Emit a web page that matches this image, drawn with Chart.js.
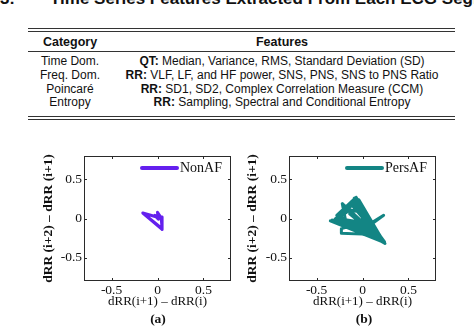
<!DOCTYPE html>
<html>
<head>
<meta charset="utf-8">
<script src="https://cdn.jsdelivr.net/npm/chart.js@4.4.1/dist/chart.umd.min.js"></script>
<style>
  html, body { margin: 0; padding: 0; background: #fff; }
  body { width: 474px; height: 326px; overflow: hidden; position: relative; font-family: "Liberation Sans", Arial, sans-serif; color: #111; }
  .abs { position: absolute; white-space: nowrap; }
  .rule { position: absolute; left: 28px; width: 427px; height: 1px; background: #333; }
  .cell { position: absolute; white-space: nowrap; font-size: 12px; line-height: 14px; transform: translate(-50%, -50%); }
  .hdr { font-weight: bold; font-size: 12.5px; }
  .cap { position: absolute; font-family: "Liberation Serif", "Times New Roman", serif; font-weight: bold; font-size: 13.5px; transform: translate(-50%, -50%); white-space: nowrap; }
  canvas { position: absolute; }
</style>
</head>
<body>
<div class="abs" id="titleA" style="left:-200px; width:215px; text-align:right; top:-11px; font-weight:bold; font-size:17px;">Table 3:</div>
<div class="abs" id="titleB" style="left:50px; top:-11px; font-weight:bold; font-size:17px;">Time Series Features Extracted From Each ECG Segment</div>
<div id="table"></div>
<canvas id="c1" width="237" height="186" style="left:0px; top:140px; width:237px; height:186px;"></canvas>
<canvas id="c2" width="237" height="186" style="left:237px; top:140px; width:237px; height:186px;"></canvas>
<div class="cap" style="left:158px; top:319px;">(a)</div>
<div class="cap" style="left:364px; top:319px;">(b)</div>
<script>
// ---- Table content ----
const TABLE_HEADERS = ["Category", "Features"];
const TABLE_CATEGORIES = ["Time Dom.", "Freq. Dom.", "Poincaré", "Entropy"];
const TABLE_PREFIXES = ["QT:", "RR:", "RR:", "RR:"];
const TABLE_FEATURES = [
  "Median, Variance, RMS, Standard Deviation (SD)",
  "VLF, LF, and HF power, SNS, PNS, SNS to PNS Ratio",
  "SD1, SD2, Complex Correlation Measure (CCM)",
  "Sampling, Spectral and Conditional Entropy"
];

// ---- Chart content ----
const TICK_VALUES = [-0.5, 0, 0.5];
const TICK_LABELS = ["-0.5", "0", "0.5"];
const AXIS_MIN = -0.8, AXIS_MAX = 0.8;
const X_TITLE = "dRR(i+1) \u2013 dRR(i)";
const Y_TITLE = "dRR (i+2) \u2013 dRR (i+1)";

const NONAF_LABEL = "NonAF";
const NONAF_X = [-0.16, 0.05, 0.05, -0.16, 0.05, 0.04, 0.0, 0.01, -0.03, 0.05, 0.05];
const NONAF_Y = [0.07, -0.14, 0.0, 0.07, -0.13, 0.01, 0.08, -0.01, 0.04, 0.02, -0.14];

const PERSAF_LABEL = "PersAF";
const PERSAF_X = [-0.35, 0.24, -0.07, 0.22, -0.22, -0.18, 0.20, -0.12, 0.23, -0.30, -0.04, 0.18, -0.25, 0.245, -0.09, 0.02, -0.23, -0.23, 0.00, 0.21, -0.32, -0.15, -0.20, 0.15, -0.05, 0.09, 0.23, 0.10, -0.27, 0.22, -0.10, 0.19, -0.33, 0.24, -0.06, 0.12, -0.14, 0.24, -0.22, 0.20, -0.28, -0.07, 0.24, -0.17, -0.02, 0.17];
const PERSAF_Y = [-0.03, -0.31, 0.27, -0.28, 0.19, -0.05, -0.25, 0.22, -0.30, -0.01, 0.24, -0.20, 0.02, -0.32, 0.26, -0.05, -0.13, -0.19, -0.20, -0.27, -0.04, 0.10, 0.16, -0.22, 0.20, -0.06, 0.04, -0.07, 0.00, -0.29, 0.15, -0.24, -0.02, -0.30, 0.18, -0.16, 0.06, -0.31, 0.19, -0.26, 0.04, 0.27, -0.31, 0.12, 0.08, -0.21];

// ---- Build table ----
(function buildTable() {
  const t = document.getElementById('table');
  const rules = [28, 31, 51, 116, 119];
  rules.forEach(y => { const d = document.createElement('div'); d.className = 'rule'; d.style.top = y + 'px'; t.appendChild(d); });
  const catX = 70, featX = 282;
  const h1 = document.createElement('div'); h1.className = 'cell hdr'; h1.style.left = catX + 'px'; h1.style.top = '41.5px'; h1.textContent = TABLE_HEADERS[0]; t.appendChild(h1);
  const h2 = document.createElement('div'); h2.className = 'cell hdr'; h2.style.left = featX + 'px'; h2.style.top = '41.5px'; h2.textContent = TABLE_HEADERS[1]; t.appendChild(h2);
  const rowY = [60.5, 74.5, 88.5, 102];
  TABLE_CATEGORIES.forEach((c, i) => {
    const a = document.createElement('div'); a.className = 'cell'; a.style.left = catX + 'px'; a.style.top = rowY[i] + 'px'; a.textContent = c; t.appendChild(a);
    const b = document.createElement('div'); b.className = 'cell'; b.style.left = featX + 'px'; b.style.top = rowY[i] + 'px';
    const s = document.createElement('b'); s.textContent = TABLE_PREFIXES[i]; b.appendChild(s);
    b.appendChild(document.createTextNode(' ' + TABLE_FEATURES[i])); t.appendChild(b);
  });
})();

// ---- MATLAB-style box, inward ticks, legend ----
const boxPlugin = {
  id: 'matlabBox',
  afterDraw(chart) {
    const { ctx, chartArea: a, scales: { x, y } } = chart;
    ctx.save();
    ctx.strokeStyle = '#2a2a2a';
    ctx.lineWidth = 1;
    ctx.strokeRect(Math.round(a.left) + 0.5, Math.round(a.top) + 0.5, Math.round(a.right - a.left) - 1, Math.round(a.bottom - a.top) - 1);
    const tl = 3;
    ctx.beginPath();
    TICK_VALUES.forEach(v => {
      const px = Math.round(x.getPixelForValue(v)) + 0.5;
      ctx.moveTo(px, a.bottom); ctx.lineTo(px, a.bottom - tl);
      ctx.moveTo(px, a.top); ctx.lineTo(px, a.top + tl);
      const py = Math.round(y.getPixelForValue(v)) + 0.5;
      ctx.moveTo(a.left, py); ctx.lineTo(a.left + tl, py);
      ctx.moveTo(a.right, py); ctx.lineTo(a.right - tl, py);
    });
    ctx.stroke();
    // legend
    const ds = chart.data.datasets[0];
    const ly = a.top + 12;
    ctx.strokeStyle = ds.borderColor;
    ctx.lineWidth = 4;
    ctx.lineCap = 'round';
    ctx.beginPath();
    ctx.moveTo(a.right - 89, ly); ctx.lineTo(a.right - 54, ly);
    ctx.stroke();
    ctx.fillStyle = '#111';
    ctx.font = '14px "Liberation Serif", "Times New Roman", serif';
    ctx.textBaseline = 'middle';
    ctx.textAlign = 'left';
    ctx.fillText(ds.label, a.right - 51, ly + 0.5);
    ctx.restore();
  }
};

const SERIF = '"Liberation Serif", "Times New Roman", serif';

function makeChart(id, xs, ys, label, color, padRight, yTitlePad) {
  return new Chart(document.getElementById(id), {
    type: 'scatter',
    data: {
      datasets: [{
        label: label,
        data: xs.map((v, i) => ({ x: v, y: ys[i] })),
        showLine: true,
        borderColor: color,
        backgroundColor: color,
        borderWidth: 3,
        pointRadius: 0,
        borderJoinStyle: 'round',
        borderCapStyle: 'round',
        tension: 0
      }]
    },
    options: {
      responsive: false,
      animation: false,
      devicePixelRatio: 1,
      layout: { padding: { top: 16, right: padRight, left: 0, bottom: 0 } },
      plugins: { legend: { display: false }, tooltip: { enabled: false } },
      scales: {
        x: {
          type: 'linear', min: AXIS_MIN, max: AXIS_MAX,
          afterBuildTicks: s => { s.ticks = TICK_VALUES.map(v => ({ value: v })); },
          afterFit: s => { s.height = 45; },
          grid: { display: false, drawTicks: false, tickLength: 0 }, border: { display: false },
          ticks: { font: { family: SERIF, size: 13.5 }, color: '#111', padding: 1, maxRotation: 0,
                   callback: v => TICK_LABELS[TICK_VALUES.indexOf(v)] },
          title: { display: true, text: X_TITLE, color: '#111', font: { family: SERIF, size: 13 }, padding: { top: 0, bottom: 16.5 } }
        },
        y: {
          type: 'linear', min: AXIS_MIN, max: AXIS_MAX,
          afterBuildTicks: s => { s.ticks = TICK_VALUES.map(v => ({ value: v })); },
          afterFit: s => { s.width = yTitlePad.width; },
          grid: { display: false, drawTicks: false, tickLength: 0 }, border: { display: false },
          ticks: { font: { family: SERIF, size: 13.5 }, color: '#111', padding: 2,
                   callback: v => TICK_LABELS[TICK_VALUES.indexOf(v)] },
          title: { display: true, text: Y_TITLE, color: '#111', font: { family: SERIF, size: 13.5, weight: 'bold' }, padding: { top: yTitlePad.pad, bottom: 0 } }
        }
      }
    },
    plugins: [boxPlugin]
  });
}

makeChart('c1', NONAF_X, NONAF_Y, NONAF_LABEL, '#6420ee', 6, { width: 84, pad: 40 });
makeChart('c2', PERSAF_X, PERSAF_Y, PERSAF_LABEL, '#138584', 38, { width: 52, pad: 7 });
</script>
</body>
</html>
